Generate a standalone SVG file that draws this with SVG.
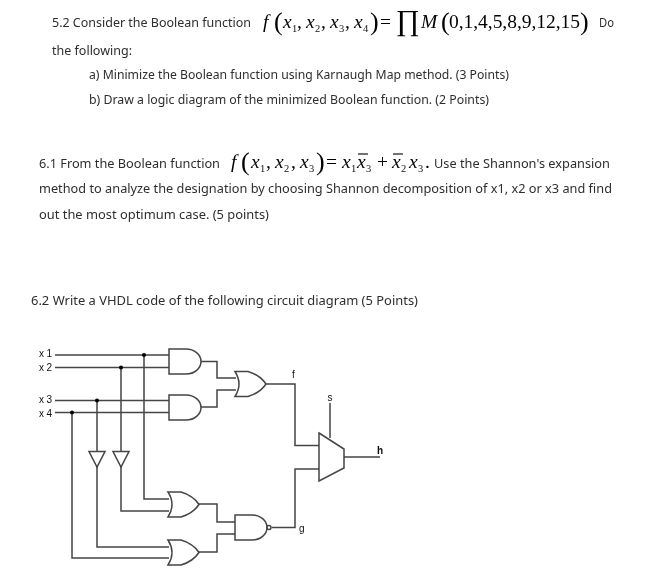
<svg xmlns="http://www.w3.org/2000/svg" width="647" height="580" viewBox="0 0 647 580">
<defs>
<filter id="soft" x="-5%" y="-5%" width="110%" height="110%"><feGaussianBlur stdDeviation="0.65"/></filter>
<style>
.t{font-family:"Noto Sans","Open Sans","DejaVu Sans",sans-serif;font-size:12.200px;fill:#2e2e2e}
.m{font-family:"Liberation Serif",serif;font-size:19.500px;fill:#000}
.i{font-style:italic}
.p{font-family:"Liberation Serif",serif;font-size:26px;fill:#000}
.s{font-family:"Liberation Serif",serif;font-size:10.500px;fill:#111}
.l{font-family:"Liberation Sans",sans-serif;font-size:10px;fill:#111}
.g{fill:#fff;stroke:#444;stroke-width:1.500}
.w{fill:none;stroke:#444;stroke-width:1.500}
.d{fill:#000}
</style>
</defs>
<rect width="647" height="580" fill="#fff"/>
<g filter="url(#soft)">
<g id="text-5-2">
<text class="t" x="52" y="27" textLength="199" lengthAdjust="spacingAndGlyphs">5.2 Consider the Boolean function</text>
<text class="m i" x="263" y="28">f</text>
<text class="p" x="274" y="30">(</text>
<text class="m i" x="283" y="28">x</text><text class="s" x="292" y="32">1</text><text class="m" x="297" y="28">,</text>
<text class="m i" x="306" y="28">x</text><text class="s" x="315" y="32">2</text><text class="m" x="321" y="28">,</text>
<text class="m i" x="330" y="28">x</text><text class="s" x="339" y="32">3</text><text class="m" x="345" y="28">,</text>
<text class="m i" x="354" y="28">x</text><text class="s" x="363" y="32">4</text>
<text class="p" x="370" y="30">)</text>
<text class="m" x="380" y="28">=</text>
<text class="p" x="396" y="30" style="font-size:29px">∏</text>
<text class="m i" x="421" y="28">M</text>
<text class="p" x="441" y="30">(</text>
<text class="m" x="449" y="28" textLength="131" lengthAdjust="spacing">0,1,4,5,8,9,12,15</text>
<text class="p" x="580" y="30">)</text>
<text class="t" x="599" y="27" textLength="15" lengthAdjust="spacingAndGlyphs">Do</text>
<text class="t" x="52" y="54.500" textLength="80" lengthAdjust="spacingAndGlyphs">the following:</text>
<text class="t" x="89" y="79" textLength="420" lengthAdjust="spacingAndGlyphs">a) Minimize the Boolean function using Karnaugh Map method. (3 Points)</text>
<text class="t" x="89" y="103.500" textLength="400" lengthAdjust="spacingAndGlyphs">b) Draw a logic diagram of the minimized Boolean function. (2 Points)</text>
</g>
<g id="text-6-1">
<text class="t" x="39" y="167.500" textLength="181" lengthAdjust="spacingAndGlyphs">6.1 From the Boolean function</text>
<text class="m i" x="231" y="168">f</text>
<text class="p" x="241" y="170">(</text>
<text class="m i" x="251" y="168">x</text><text class="s" x="260" y="172">1</text><text class="m" x="266" y="168">,</text>
<text class="m i" x="275" y="168">x</text><text class="s" x="284" y="172">2</text><text class="m" x="291" y="168">,</text>
<text class="m i" x="300" y="168">x</text><text class="s" x="309" y="172">3</text>
<text class="p" x="316" y="170">)</text>
<text class="m" x="326" y="168">=</text>
<text class="m i" x="342" y="168">x</text><text class="s" x="351" y="172">1</text>
<text class="m i" x="357" y="168">x</text><text class="s" x="366" y="172">3</text>
<text class="m" x="377" y="168">+</text>
<text class="m i" x="392" y="168">x</text><text class="s" x="401" y="172">2</text>
<text class="m i" x="409" y="168">x</text><text class="s" x="418" y="172">3</text>
<text class="m" x="425" y="168">.</text>
<path class="w" d="M358 154H368M393 154H403"/>
<text class="t" x="434" y="167.500" textLength="176" lengthAdjust="spacingAndGlyphs">Use the Shannon's expansion</text>
<text class="t" x="39" y="193" textLength="573" lengthAdjust="spacingAndGlyphs">method to analyze the designation by choosing Shannon decomposition of x1, x2 or x3 and find</text>
<text class="t" x="39" y="219" textLength="230" lengthAdjust="spacingAndGlyphs">out the most optimum case. (5 points)</text>
</g>
<g id="text-6-2">
<text class="t" x="31" y="305" textLength="387" lengthAdjust="spacingAndGlyphs">6.2 Write a VHDL code of the following circuit diagram (5 Points)</text>
</g>
<g id="connectors">
<path class="w" d="M55 355H169M55 367.500H169M55 400.500H169M55 412.500H169"/>
<path class="w" d="M144 355V499H169M121 367.500V451M121 467V511H169M97 400.500V451M97 467V547H169M72 412.500V558H169"/>
<path class="w" d="M201 361.500H217V378H236M201 407H217V390H236M266 384H295V445.500H319M199 504H217V522H235M199 552H217V534H235M272 527.500H295V469H319M344 457H380M330 403V438"/>
<circle class="d" cx="144" cy="355" r="2"/><circle class="d" cx="121" cy="367.500" r="2"/><circle class="d" cx="97" cy="400.500" r="2"/><circle class="d" cx="72" cy="412.500" r="2"/>
</g>
<g id="and1"><path class="g" d="M169 349H186A15 12.500 0 0 1 186 374H169Z"/></g>
<g id="and2"><path class="g" d="M169 395H186A15 12.500 0 0 1 186 420H169Z"/></g>
<g id="or1"><path class="g" d="M235 371.500H248Q260 375 266 384Q260 393 248 396.500H235Q243 384 235 371.500Z"/></g>
<g id="or2"><path class="g" d="M168 492H181Q193 495.500 199 504.500Q193 513.500 181 517H168Q176 504.500 168 492Z"/></g>
<g id="or3"><path class="g" d="M168 540H181Q193 543.500 199 552.500Q193 561.500 181 565H168Q176 552.500 168 540Z"/></g>
<g id="nand"><path class="g" d="M235 515H252A15 12.500 0 0 1 252 540H235Z"/><circle class="g" cx="269" cy="527.500" r="2"/></g>
<g id="not1"><path class="g" d="M89 451.500H105L97 467Z"/></g>
<g id="not2"><path class="g" d="M113 451.500H129L121 467Z"/></g>
<g id="mux"><path class="g" d="M319 433L344 449V468L319 481Z"/></g>
<g id="labels">
<text class="l" x="39" y="356.500" textLength="13">x1</text><text class="l" x="39" y="370.500" textLength="13">x2</text><text class="l" x="39" y="403" textLength="13">x3</text><text class="l" x="39" y="416.500" textLength="13">x4</text>
<text class="l" x="292" y="378">f</text><text class="l" x="327.500" y="400.500">s</text><text class="l" x="377" y="454" font-weight="bold">h</text><text class="l" x="299" y="532">g</text>
</g>
</g>
</svg>
